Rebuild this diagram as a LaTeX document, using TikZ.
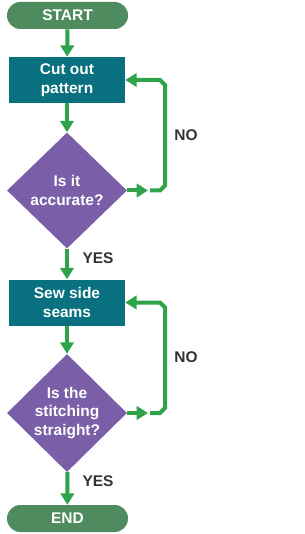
\documentclass[tikz,border=0pt]{standalone}
\usepackage{fontspec}
\setmainfont{Liberation Sans}
\usetikzlibrary{arrows.meta,shapes.geometric}
\definecolor{termgreen}{HTML}{4E8C60}
\definecolor{boxteal}{HTML}{08707F}
\definecolor{askpurple}{HTML}{7A5FA8}
\definecolor{flowgreen}{HTML}{2FA34A}
\definecolor{labelgray}{HTML}{333333}

\begin{document}
\begin{tikzpicture}[x=0.75pt,y=-0.75pt,
	txt/.style = {text=white,font=\fontsize{11.6}{14}\selectfont\bfseries,align=center,inner sep=0pt},
	term/.style = {txt,fill=termgreen,rounded corners=10pt,minimum width=90.75pt,minimum height=20.25pt},
	task/.style = {txt,fill=boxteal,minimum width=87pt,minimum height=34.5pt},
	ask/.style = {txt,diamond,fill=askpurple,minimum width=90pt,minimum height=87pt},
	flow/.style = {draw=flowgreen,line width=3pt,-{Triangle[width=10pt,length=8.5pt]}},
	loop/.style = {draw=flowgreen,line width=3pt},
	lbl/.style = {text=labelgray,font=\fontsize{11.6}{14}\selectfont\bfseries,inner sep=0pt}]
	\useasboundingbox (0,0) rectangle (304,534);
	% boxes
	\node [term] (start) at (67.5,15.5) {START};
	\node [task] (cut) at (67,80) {Cut out\\pattern};
	\node [ask] (acc) at (67,190.5) {Is it\\accurate?};
	\node [task] (sew) at (67,302.5) {Sew side\\seams};
	\node [ask,minimum height=88.5pt] (str) at (67,413) {Is the\\stitching\\straight?};
	\node [term] (stop) at (67.5,518.5) {END};
	% main line
	\draw [flow] (start) -- (cut);
	\draw [flow] (cut) -- (acc);
	\draw [flow] (acc) -- (sew);
	\draw [flow] (sew) -- (str);
	\draw [flow] (str) -- (stop);
	% first loop
	\coordinate (acctip) at (148,190.5);
	\draw [flow] (acc.east) -- (acctip);
	\draw [loop,-{Triangle[width=10pt,length=8.5pt]}] (150,190.5) -- (160,190.5) -- (165,185.5) -- (165,85) -- (160,80) -- (cut.east);
	% second loop
	\coordinate (strtip) at (148,413);
	\draw [flow] (str.east) -- (strtip);
	\draw [loop,-{Triangle[width=10pt,length=8.5pt]}] (150,413) -- (160,413) -- (165,408) -- (165,307.5) -- (160,302.5) -- (sew.east);
	% labels
	\node [lbl] (no1) at (186,135) {NO};
	\node [lbl] (yes1) at (98,258) {YES};
	\node [lbl] (no2) at (186,357) {NO};
	\node [lbl] (yes2) at (98,481) {YES};
\end{tikzpicture}
\end{document}
